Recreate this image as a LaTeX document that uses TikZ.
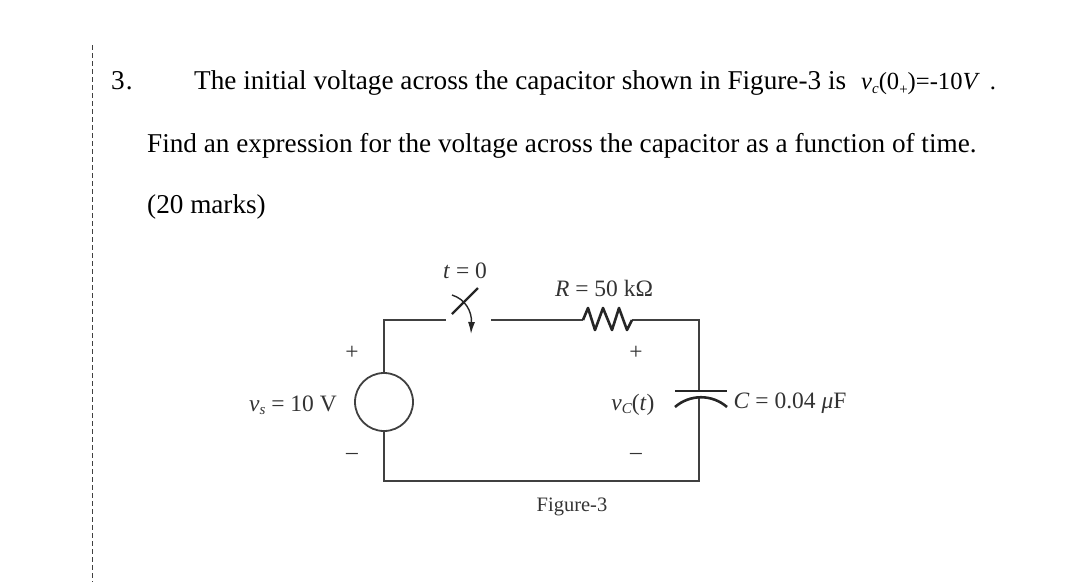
\documentclass[tikz,border=0pt]{standalone}
\usepackage{fontspec}
\setmainfont{Liberation Serif}
\usetikzlibrary{arrows.meta}

\begin{document}
\begin{tikzpicture}[x=1pt,y=-1pt,
  Tx/.style={inner sep=0pt, anchor=base west, font=\fontsize{27.2}{32}\selectfont},
  Cl/.style={inner sep=0pt, text=black!80, font=\fontsize{23.5}{28}\selectfont},
  Wr/.style={draw=black!75, line width=1.8pt},
  Pl/.style={draw=black!85, line width=2.6pt}]
  \useasboundingbox (0,0) rectangle (1080,582);
  \coordinate (mt) at (92,45);
  \coordinate (mb) at (92,582);
  \draw[black!75, line width=1pt, dash pattern=on 5pt off 3pt] (mt) -- (mb);

  \node[Tx] at (111,89) (num) {3\kern1pt.};
  \node[Tx] at (194,89) (l1) {The initial voltage across the capacitor shown in Figure-3 is};
  \node[Tx] at (861,89) (eq) {\fontsize{24.6}{28}\selectfont\itshape v\raisebox{-4pt}{\fontsize{15}{15}\selectfont c}\upshape(0\raisebox{-5pt}{\fontsize{15}{15}\selectfont +})=-10\itshape V\upshape\ \ .};
  \node[Tx] at (147,152) (l2) {Find an expression for the voltage across the capacitor as a function of time.};
  \node[Tx] at (147,213) (l3) {(20 marks)};

  \node[draw=black!75, line width=1.8pt, circle, minimum size=58pt, inner sep=0pt] at (384,402) (vs) {};
  \coordinate (tl) at (384,320);
  \coordinate (tr) at (699,320);
  \coordinate (bl) at (384,481);
  \coordinate (br) at (699,481);
  \coordinate (swa) at (446,320);
  \coordinate (swb) at (491,320);
  \coordinate (ra) at (583,320);
  \coordinate (rb) at (632,320);
  \coordinate (ct) at (699,391);
  \coordinate (cb) at (699,398);

  \draw[Wr] (vs) -- (tl) -- (swa);
  \draw[Wr] (swb) -- (ra);
  \draw[Wr] (rb) -- (tr) -- (ct);
  \draw[Wr] (cb) -- (br) -- (bl) -- (vs);
  % resistor
  \draw[Pl, line join=round] (ra) -- (588,308) -- (595,330) -- (603,308) -- (612,330) -- (619,308) -- (627,330) -- (rb);

  % switch
  \coordinate (sa) at (452,314);
  \coordinate (sb) at (478,288);
  \coordinate (sc) at (452,295);
  \coordinate (sd) at (471,334);
  \draw[black!85, line width=2.4pt] (sa) -- (sb);
  \draw[black!85, line width=1.4pt, -{Latex[length=12pt,width=7pt]}] (sc) .. controls (465,299) and (472,311) .. (sd);

  % capacitor
  \coordinate (pa) at (675,391);
  \coordinate (pb) at (727,391);
  \coordinate (qa) at (675,407);
  \coordinate (qb) at (727,407);
  \draw[Pl] (pa) -- (pb);
  \draw[Pl] (qa) .. controls (690,394) and (712,394) .. (qb);

  \node[Cl] at (465,271) (tlab) {\textit{t} = 0};
  \node[Cl] at (604,288) (rlab) {\textit{R} = 50 kΩ};
  \node[Cl] at (352,353) (vp) {+};
  \node[Cl] at (352,456) (vm) {--};
  \node[Cl] at (293,405) (vlab) {\textit{v\raisebox{-3pt}{\fontsize{15}{15}\selectfont s}} = 10 V};
  \node[Cl] at (636,353) (cp) {+};
  \node[Cl] at (636,456) (cm) {--};
  \node[Cl] at (633,405) (clab) {\textit{v\raisebox{-3pt}{\fontsize{15}{15}\selectfont C}}(\textit{t})};
  \node[Cl] at (790,403) (cval) {\textit{C} = 0.04 \textit{μ}F};
  \node[Cl, font=\fontsize{20.5}{25}\selectfont] at (572,507) (fig) {Figure-3};
\end{tikzpicture}
\end{document}
